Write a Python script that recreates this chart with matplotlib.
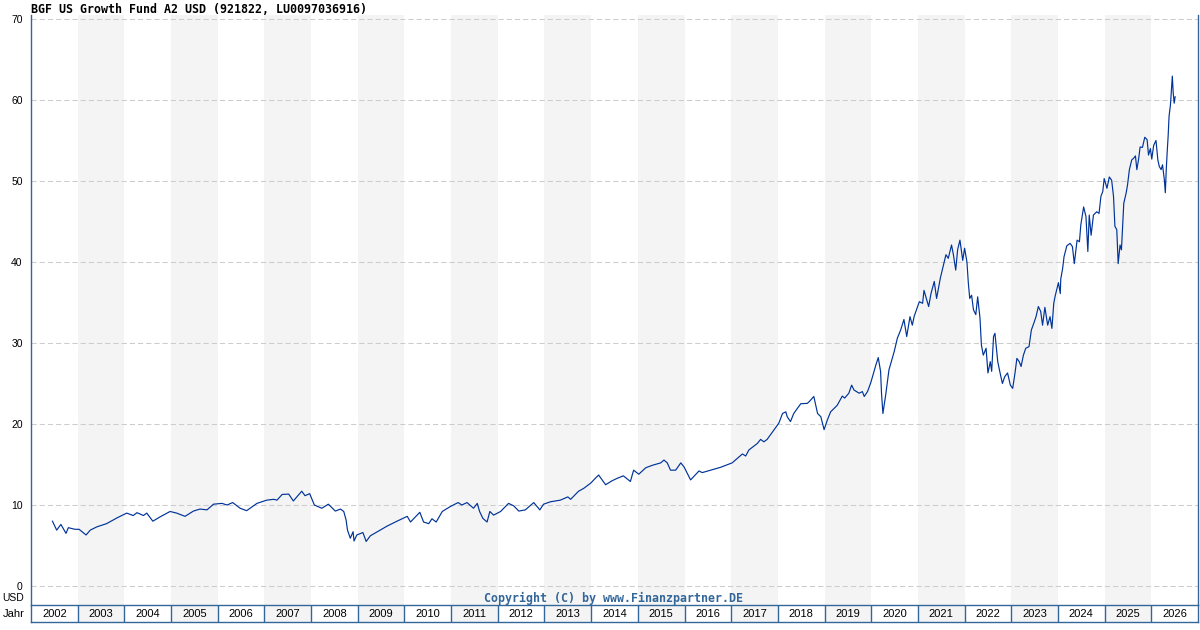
import matplotlib
matplotlib.use("Agg")
import matplotlib.pyplot as plt
import numpy as np

plt.rcParams['lines.scale_dashes'] = False

title = "BGF US Growth Fund A2 USD (921822, LU0097036916)"
copyright_text = "Copyright (C) by www.Finanzpartner.DE"
years = list(range(2002, 2027))
y_ticks = [0, 10, 20, 30, 40, 50, 60, 70]

# fund price (USD), decimal year
dates = [
    2002.46, 2002.55, 2002.64, 2002.75, 2002.80, 2002.94, 2003.03, 2003.18, 2003.27, 2003.41,
    2003.62, 2003.84, 2004.05, 2004.19, 2004.27, 2004.41, 2004.48, 2004.61, 2004.77, 2004.98,
    2005.12, 2005.30, 2005.48, 2005.62, 2005.77, 2005.91, 2006.09, 2006.20, 2006.32, 2006.48,
    2006.62, 2006.84, 2007.05, 2007.20, 2007.27, 2007.38, 2007.52, 2007.62, 2007.80, 2007.87,
    2007.97, 2008.07, 2008.23, 2008.37, 2008.52, 2008.63, 2008.70, 2008.75, 2008.78, 2008.84,
    2008.90, 2008.92, 2008.98, 2009.11, 2009.18, 2009.27, 2009.48, 2009.63, 2009.84, 2010.06,
    2010.13, 2010.33, 2010.41, 2010.52, 2010.59, 2010.68, 2010.81, 2010.98, 2011.15, 2011.23,
    2011.34, 2011.48, 2011.56, 2011.61, 2011.68, 2011.77, 2011.83, 2011.91, 2012.06, 2012.23,
    2012.34, 2012.45, 2012.59, 2012.77, 2012.90, 2012.98, 2013.13, 2013.34, 2013.50, 2013.56,
    2013.73, 2013.84, 2013.99, 2014.09, 2014.16, 2014.31, 2014.45, 2014.56, 2014.69, 2014.84,
    2014.91, 2015.02, 2015.17, 2015.31, 2015.49, 2015.56, 2015.63, 2015.70, 2015.81, 2015.92,
    2015.99, 2016.13, 2016.31, 2016.38, 2016.56, 2016.77, 2017.02, 2017.13, 2017.24, 2017.31,
    2017.38, 2017.56, 2017.63, 2017.70, 2017.77, 2017.92, 2018.02, 2018.10, 2018.17, 2018.20,
    2018.27, 2018.34, 2018.49, 2018.63, 2018.67, 2018.77, 2018.85, 2018.92, 2018.99, 2019.06,
    2019.13, 2019.27, 2019.38, 2019.43, 2019.52, 2019.58, 2019.63, 2019.74, 2019.81, 2019.85,
    2019.92, 2019.99, 2020.10, 2020.15, 2020.20, 2020.22, 2020.25, 2020.31, 2020.38, 2020.49,
    2020.56, 2020.63, 2020.70, 2020.76, 2020.83, 2020.88, 2020.92, 2021.03, 2021.10, 2021.13,
    2021.23, 2021.28, 2021.35, 2021.40, 2021.48, 2021.53, 2021.60, 2021.65, 2021.72, 2021.76,
    2021.81, 2021.85, 2021.90, 2021.96, 2022.00, 2022.05, 2022.08, 2022.11, 2022.15, 2022.19,
    2022.24, 2022.28, 2022.33, 2022.36, 2022.40, 2022.46, 2022.50, 2022.55, 2022.58, 2022.62,
    2022.65, 2022.71, 2022.76, 2022.81, 2022.86, 2022.92, 2022.98, 2023.03, 2023.08, 2023.12,
    2023.17, 2023.21, 2023.26, 2023.31, 2023.38, 2023.43, 2023.48, 2023.53, 2023.58, 2023.63,
    2023.67, 2023.72, 2023.78, 2023.83, 2023.87, 2023.91, 2023.94, 2024.01, 2024.05, 2024.06,
    2024.10, 2024.13, 2024.19, 2024.26, 2024.31, 2024.35, 2024.41, 2024.46, 2024.49, 2024.55,
    2024.60, 2024.64, 2024.67, 2024.71, 2024.76, 2024.83, 2024.88, 2024.92, 2024.96, 2024.99,
    2025.05, 2025.10, 2025.15, 2025.19, 2025.22, 2025.26, 2025.29, 2025.33, 2025.36, 2025.41,
    2025.46, 2025.49, 2025.53, 2025.58, 2025.62, 2025.66, 2025.69, 2025.73, 2025.76, 2025.81,
    2025.86, 2025.91, 2025.94, 2025.98, 2026.01, 2026.05, 2026.10, 2026.14, 2026.17, 2026.21,
    2026.24, 2026.28, 2026.30, 2026.32, 2026.34, 2026.36, 2026.38, 2026.41, 2026.43, 2026.45,
    2026.47, 2026.49, 2026.51,
]
prices = [
    8.0, 6.9, 7.6, 6.5, 7.2, 7.0, 7.0, 6.3, 6.9, 7.3,
    7.7, 8.4, 9.0, 8.7, 9.05, 8.7, 9.0, 8.0, 8.55, 9.2,
    9.0, 8.6, 9.25, 9.5, 9.4, 10.1, 10.2, 10.0, 10.3, 9.6,
    9.3, 10.2, 10.6, 10.7, 10.6, 11.3, 11.35, 10.5, 11.7, 11.15,
    11.4, 10.0, 9.6, 10.1, 9.25, 9.5, 9.2, 8.15, 6.9, 5.9,
    6.7, 5.55, 6.3, 6.6, 5.5, 6.2, 6.9, 7.4, 8.0, 8.6,
    7.9, 9.1, 7.9, 7.7, 8.3, 7.9, 9.2, 9.8, 10.3, 10.0,
    10.3, 9.6, 10.2, 9.2, 8.35, 7.9, 9.2, 8.75, 9.2, 10.2,
    9.9, 9.25, 9.4, 10.3, 9.4, 10.1, 10.4, 10.6, 11.0, 10.7,
    11.7, 12.05, 12.7, 13.3, 13.7, 12.5, 13.0, 13.3, 13.6, 12.9,
    14.3, 13.8, 14.6, 14.9, 15.2, 15.55, 15.2, 14.3, 14.3, 15.2,
    14.7, 13.1, 14.2, 14.0, 14.3, 14.65, 15.2, 15.75, 16.3, 16.05,
    16.8, 17.6, 18.1, 17.8, 18.1, 19.3, 20.1, 21.3, 21.5, 20.9,
    20.3, 21.3, 22.5, 22.55, 22.75, 23.4, 21.3, 20.9, 19.3, 20.5,
    21.5, 22.3, 23.45, 23.2, 23.8, 24.8, 24.2, 23.8, 24.0, 23.4,
    24.0, 25.1, 27.3, 28.2, 26.5, 23.8, 21.3, 23.6, 26.7, 28.9,
    30.6, 31.6, 32.9, 30.8, 33.25, 32.2, 33.3, 35.1, 34.9, 36.5,
    34.5, 36.1, 37.6, 35.5, 38.0, 39.2, 40.9, 40.45, 42.1, 40.9,
    39.0, 41.5, 42.7, 40.2, 41.7, 40.0, 37.4, 35.5, 35.9, 34.1,
    33.5, 35.7, 33.05, 29.75, 28.5, 29.35, 26.3, 27.7, 26.5, 30.8,
    31.2, 27.7, 26.3, 25.0, 25.85, 26.3, 24.8, 24.4, 26.3, 28.1,
    27.7, 27.1, 28.5, 29.35, 29.55, 31.6, 32.4, 33.25, 34.5, 33.9,
    32.2, 34.4, 32.2, 33.25, 31.8, 34.9, 35.8, 37.45, 36.1, 37.9,
    39.2, 40.65, 42.0, 42.3, 41.9, 39.8, 42.7, 42.5, 44.6, 46.8,
    45.6, 41.3, 45.8, 43.3, 45.8, 46.2, 46.0, 48.1, 48.7, 50.3,
    49.1, 50.5, 50.1, 48.1, 44.4, 44.0, 39.8, 42.1, 41.5, 47.25,
    48.5, 49.5, 51.4, 52.6, 52.8, 53.1, 51.4, 52.8, 54.2, 54.15,
    55.4, 55.1, 53.2, 54.0, 52.7, 54.4, 55.0, 52.6, 51.8, 51.4,
    52.0, 50.1, 48.55, 51.4, 53.6, 55.5, 58.0, 59.4, 61.2, 62.95,
    60.8, 59.6, 60.4,
]

W, H = 1200, 630
blue = "#336699"
band = "#f4f4f4"

fig = plt.figure(figsize=(W / 100, H / 100), dpi=100)
fig.patch.set_facecolor("white")

# main plot area
left, right, top, bottom = 31, 1198, 15, 605
ax = fig.add_axes([left / W, 1 - bottom / H, (right - left) / W, (bottom - top) / H])
ax.set_xlim(2002, 2027)
ax.set_ylim((586 - bottom) / 8.1, (586 - top) / 8.1)

for yr in years:
    if yr % 2 == 1:
        ax.axvspan(yr, yr + 1, color=band, lw=0, zorder=0)
for t in y_ticks:
    ax.axhline(t, color="#cccccc", lw=0.75, dashes=(3.7, 2.2), zorder=1)

ax.plot(dates, prices, color="#003399", lw=0.85, zorder=3)

ax.set_yticks(y_ticks)
ax.set_yticklabels([str(t) for t in y_ticks], family="Liberation Sans", fontsize=7.5)
ax.set_xticks([])
ax.tick_params(axis="y", length=0, pad=6)
for s in ["top", "bottom"]:
    ax.spines[s].set_visible(False)
for s in ["left", "right"]:
    ax.spines[s].set_color(blue)
    ax.spines[s].set_linewidth(1.0)

# year row
yr_top, yr_bot = 605, 622
ax2 = fig.add_axes([left / W, 1 - yr_bot / H, (right - left) / W, (yr_bot - yr_top) / H])
ax2.set_xlim(2002, 2027)
ax2.set_ylim(0, 1)
for yr in years:
    if yr % 2 == 1:
        ax2.axvspan(yr, yr + 1, color=band, lw=0, zorder=0)
    if yr > 2002:
        ax2.axvline(yr, color=blue, lw=1.0)
    ax2.text(yr + 0.5, 0.45, str(yr), ha="center", va="center",
             family="Liberation Sans", fontsize=8)
ax2.set_xticks([])
ax2.set_yticks([])
for s in ax2.spines.values():
    s.set_color(blue)
    s.set_linewidth(1.0)

fig.text(31 / W, 1 - 9.5 / H, title, ha="left", va="center",
         family="DejaVu Sans Mono", fontweight="bold", fontsize=8.4)
fig.text(614 / W, 1 - 598 / H, copyright_text, ha="center", va="center",
         family="DejaVu Sans Mono", fontweight="bold", fontsize=8.4, color=blue)
fig.text(24 / W, 1 - 598 / H, "USD", ha="right", va="center",
         family="Liberation Sans", fontsize=7.5)
fig.text(25 / W, 1 - 614 / H, "Jahr", ha="right", va="center",
         family="Liberation Sans", fontsize=8)

fig.savefig("out.png", dpi=100)
